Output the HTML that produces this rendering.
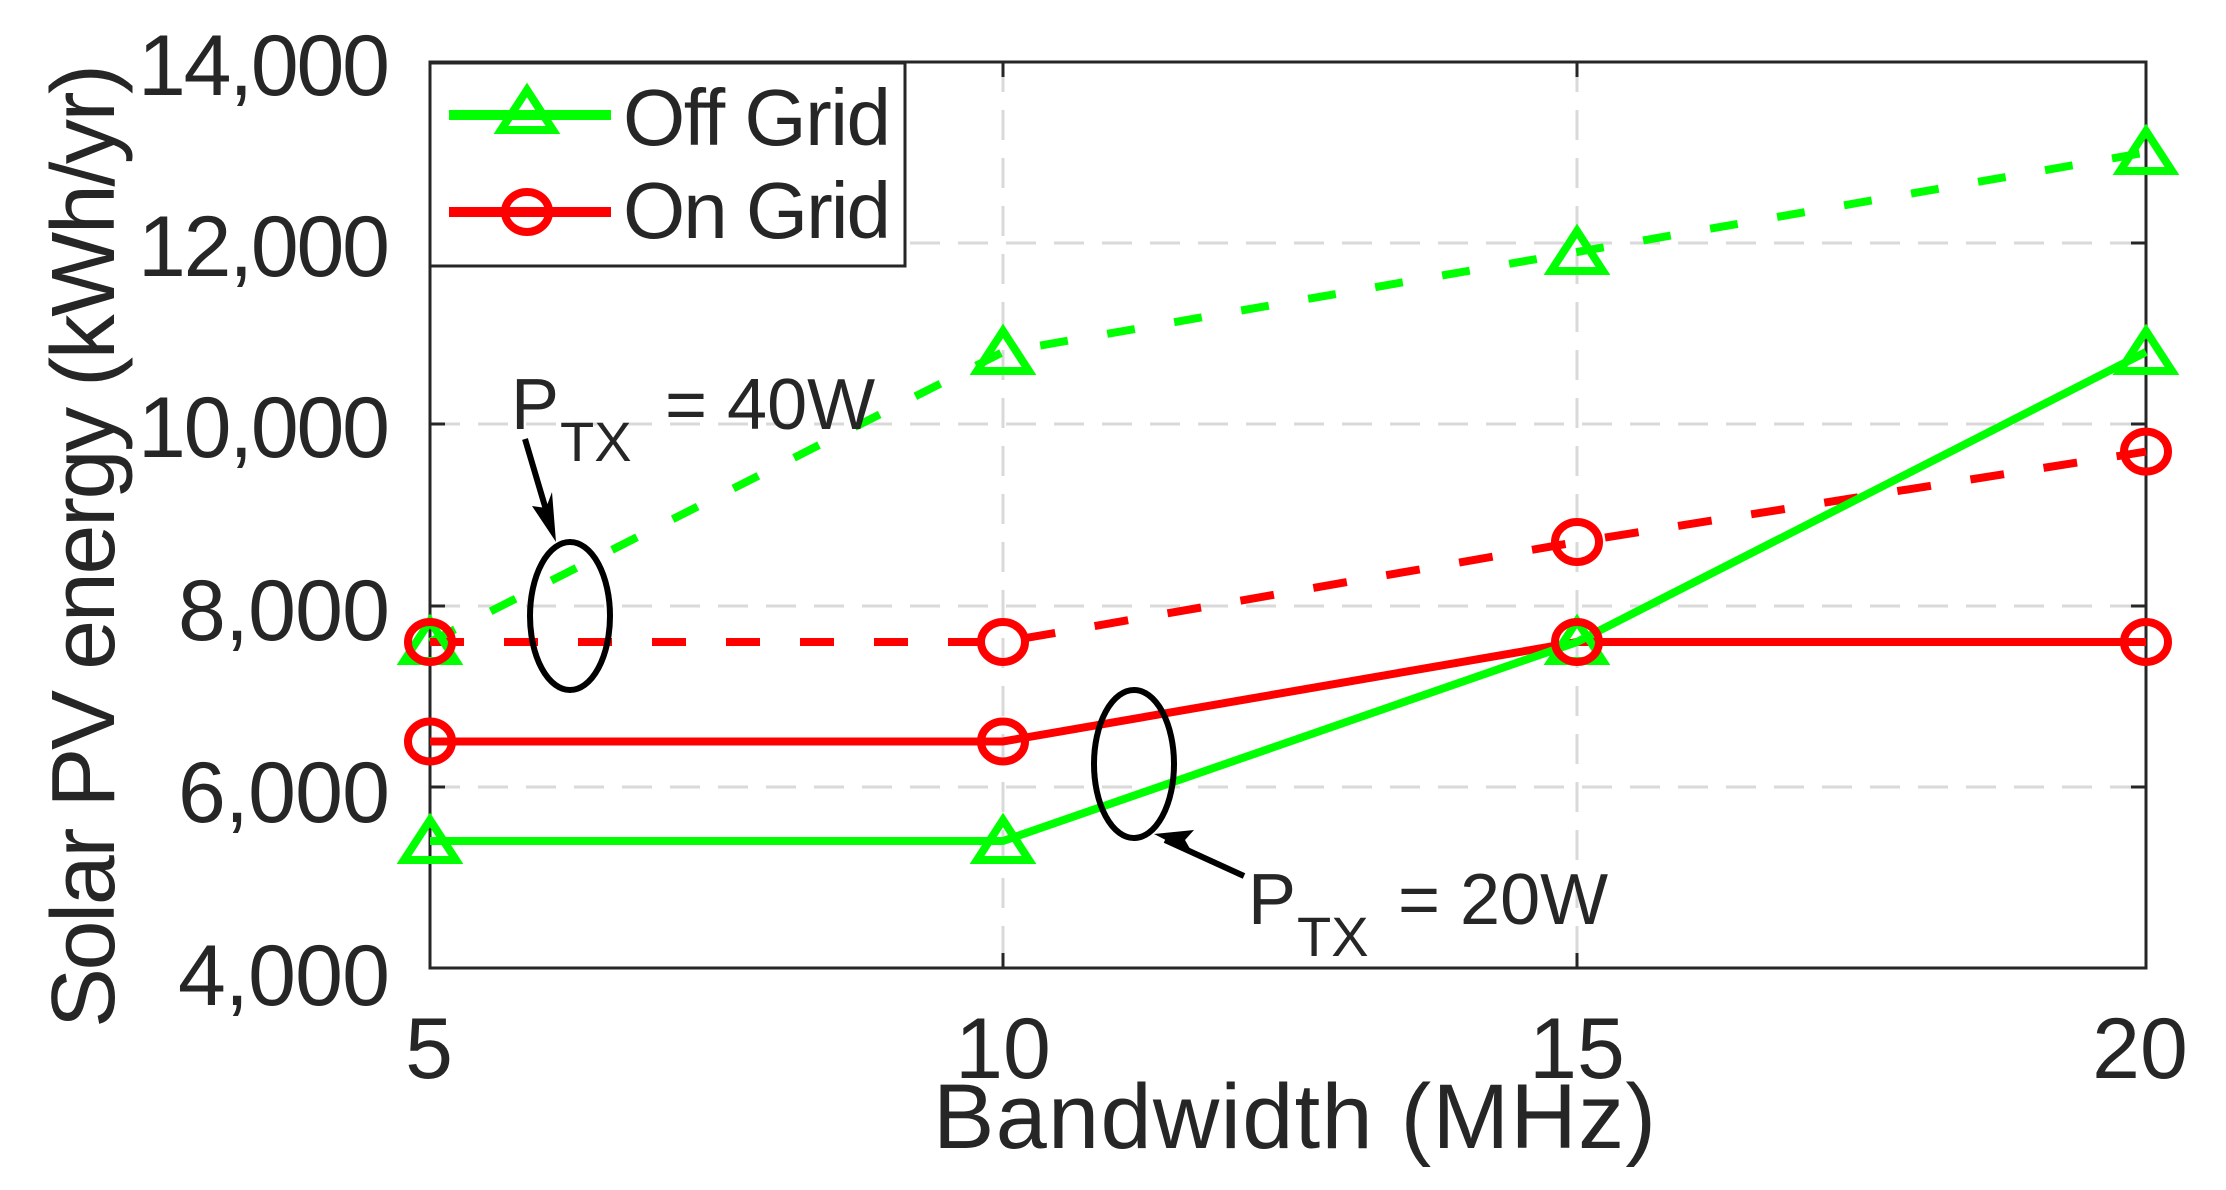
<!DOCTYPE html>
<html><head><meta charset="utf-8"><style>
html,body{margin:0;padding:0;background:#fff}
svg{display:block}
text{font-family:"Liberation Sans",sans-serif;fill:#262626}
</style></head><body>
<svg width="2226" height="1190" viewBox="0 0 2226 1190" xmlns="http://www.w3.org/2000/svg">
<rect width="2226" height="1190" fill="#fff"/>
<g stroke="#d9d9d9" stroke-width="3" stroke-dasharray="30,18">
<line x1="1003" y1="62" x2="1003" y2="968"/>
<line x1="1577" y1="62" x2="1577" y2="968"/>
<line x1="430" y1="243" x2="2146" y2="243"/>
<line x1="430" y1="424" x2="2146" y2="424"/>
<line x1="430" y1="606" x2="2146" y2="606"/>
<line x1="430" y1="787" x2="2146" y2="787"/>
</g>
<rect x="430" y="62" width="1716" height="906" fill="none" stroke="#262626" stroke-width="3"/>
<g stroke="#262626" stroke-width="3">
<line x1="1003" y1="968" x2="1003" y2="953"/><line x1="1577" y1="968" x2="1577" y2="953"/>
<line x1="1003" y1="62" x2="1003" y2="77"/><line x1="1577" y1="62" x2="1577" y2="77"/>
<line x1="2146" y1="243" x2="2131" y2="243"/><line x1="2146" y1="424" x2="2131" y2="424"/>
<line x1="2146" y1="606" x2="2131" y2="606"/><line x1="2146" y1="787" x2="2131" y2="787"/>
<line x1="430" y1="243" x2="445" y2="243"/><line x1="430" y1="424" x2="445" y2="424"/>
<line x1="430" y1="606" x2="445" y2="606"/><line x1="430" y1="787" x2="445" y2="787"/>
</g>
<g font-size="86" text-anchor="end">
<text x="390" y="95" textLength="252">14,000</text>
<text x="390" y="276" textLength="252">12,000</text>
<text x="390" y="457" textLength="252">10,000</text>
<text x="390" y="640" textLength="212">8,000</text>
<text x="390" y="822" textLength="212">6,000</text>
<text x="390" y="1005" textLength="212">4,000</text>
</g>
<g font-size="86" text-anchor="middle">
<text x="429" y="1078">5</text>
<text x="1003" y="1078">10</text>
<text x="1577" y="1078">15</text>
<text x="2140" y="1078">20</text>
</g>
<text x="933" y="1148" font-size="92" textLength="723">Bandwidth (MHz)</text>
<text transform="translate(114,1028) rotate(-90)" font-size="90" textLength="964">Solar PV energy (kWh/yr)</text>
<g fill="none" stroke-width="8">
<polyline points="430,642 1003,352 1577,252 2146,152.5" stroke="#00ff00" stroke-dasharray="28,40"/>
<polyline points="430,642 1003,642 1577,542 2146,451.6" stroke="#ff0000" stroke-dasharray="34,40"/>
<polyline points="430,741.5 1003,741.5 1577,642 2146,642" stroke="#ff0000"/>
<polyline points="430,841 1003,841 1577,642 2146,352" stroke="#00ff00"/>
</g>
<g fill="none" stroke="#00ff00" stroke-width="8">
<path d="M430,820 l-26,40 h52z M1003,820 l-26,40 h52z M1577,621 l-26,40 h52z M2146,331 l-26,40 h52z M430,621 l-26,40 h52z M1003,331 l-26,40 h52z M1577,231 l-26,40 h52z M2146,131 l-26,40 h52z"/>
</g>
<g fill="none" stroke="#ff0000" stroke-width="8">
<ellipse cx="430" cy="642" rx="22" ry="20"/><ellipse cx="1003" cy="642" rx="22" ry="20"/>
<ellipse cx="1577" cy="542" rx="22" ry="20"/><ellipse cx="2146" cy="451.6" rx="22" ry="20"/>
<ellipse cx="430" cy="741.5" rx="22" ry="20"/><ellipse cx="1003" cy="741.5" rx="22" ry="20"/>
<ellipse cx="1577" cy="642" rx="22" ry="20"/><ellipse cx="2146" cy="642" rx="22" ry="20"/>
</g>
<g fill="none" stroke="#000" stroke-width="6">
<ellipse cx="570" cy="616" rx="40" ry="74"/>
<ellipse cx="1134" cy="764" rx="40" ry="74"/>
<line x1="525" y1="439" x2="552" y2="530"/>
<line x1="1244" y1="876" x2="1165" y2="840"/>
</g>
<path d="M556,542 l-24,-36 l14,2 l6,-16z" fill="#000"/>
<path d="M1154,834 l40,-4 l-9,10 l8,14z" fill="#000"/>
<text x="511" y="429" font-size="72" fill="#000">P</text>
<text x="560" y="461" font-size="56" fill="#000">TX</text>
<text x="665" y="429" font-size="72" fill="#000">= 40W</text>
<text x="1248" y="924" font-size="72" fill="#000">P</text>
<text x="1297" y="956" font-size="56" fill="#000">TX</text>
<text x="1398" y="924" font-size="72" fill="#000">= 20W</text>
<rect x="430" y="63" width="475" height="203" fill="#fff" stroke="#262626" stroke-width="3"/>
<line x1="449" y1="115" x2="611" y2="115" stroke="#00ff00" stroke-width="10"/>
<path d="M527,90 l-26,40 h52z" fill="none" stroke="#00ff00" stroke-width="8"/>
<line x1="449" y1="212" x2="611" y2="212" stroke="#ff0000" stroke-width="10"/>
<ellipse cx="527" cy="212" rx="22" ry="20" fill="none" stroke="#ff0000" stroke-width="8"/>
<text x="623" y="145" font-size="80" fill="#000" textLength="268">Off Grid</text>
<text x="623" y="238" font-size="80" fill="#000" textLength="268">On Grid</text>
</svg>
</body></html>
